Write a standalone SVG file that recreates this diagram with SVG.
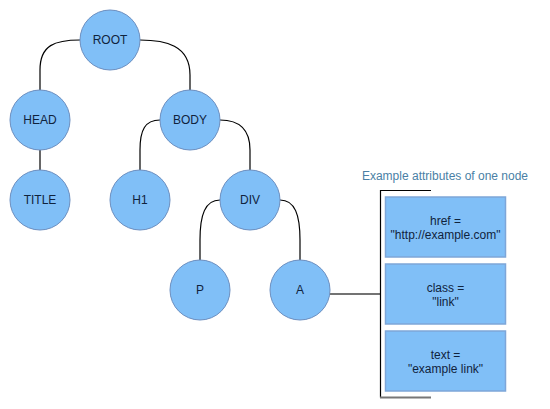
<svg xmlns="http://www.w3.org/2000/svg" width="550" height="409" viewBox="0 0 550 409">
<style>
.n{fill:#80bff7;stroke:#6c8ebf;stroke-width:1}
.t{font-family:"Liberation Sans",Arial,sans-serif;font-size:12px;fill:#10233d;text-anchor:middle}
.c{fill:none;stroke:#000;stroke-width:1.2}
.b{fill:#80bff7;stroke:#7ea6d8;stroke-width:1.5}
</style>
<rect width="550" height="409" fill="#fff"/>
<g id="connectors">
<path class="c" d="M80,40 C55,40 40,45 40,70 L40,90"/>
<path class="c" d="M140,40 C165,40 190,45 190,75 L190,90"/>
<path class="c" d="M40,150 L40,170"/>
<path class="c" d="M160,120 C145,120 140,130 140,150 L140,170"/>
<path class="c" d="M220,120 C240,120 250,130 250,150 L250,170"/>
<path class="c" d="M220,200 C205,200 200,215 200,240 L200,260"/>
<path class="c" d="M280,200 C295,200 300,215 300,240 L300,260"/>
<path d="M330,294 L380,294" stroke="#444" stroke-width="1.5" fill="none"/>
<path d="M431,190.5 L380.5,190.5 L380.5,397.5" stroke="#000" stroke-width="1.2" fill="none"/>
<path d="M380,397.5 L431,397.5" stroke="#777" stroke-width="2" fill="none"/>
</g>
<g id="root"><circle class="n" cx="110" cy="40" r="30"/><text class="t" x="110" y="44">ROOT</text></g>
<g id="head"><circle class="n" cx="40" cy="120" r="30"/><text class="t" x="40" y="124">HEAD</text></g>
<g id="body"><circle class="n" cx="190" cy="120" r="30"/><text class="t" x="190" y="124">BODY</text></g>
<g id="title"><circle class="n" cx="40" cy="200" r="30"/><text class="t" x="40" y="204">TITLE</text></g>
<g id="h1"><circle class="n" cx="140" cy="200" r="30"/><text class="t" x="140" y="204">H1</text></g>
<g id="div"><circle class="n" cx="250" cy="200" r="30"/><text class="t" x="250" y="204">DIV</text></g>
<g id="p"><circle class="n" cx="200" cy="290" r="30"/><text class="t" x="200" y="294">P</text></g>
<g id="a"><circle class="n" cx="300" cy="290" r="30"/><text class="t" x="300" y="294">A</text></g>
<g id="caption"><text x="445" y="180" font-family="Liberation Sans,Arial,sans-serif" font-size="12" fill="#4a7fa5" text-anchor="middle">Example attributes of one node</text></g>
<g id="attr-href"><rect class="b" x="385.5" y="197" width="120" height="60"/><text class="t" x="445.5" y="225">href =</text><text class="t" x="445.5" y="239">"http://example.com"</text></g>
<g id="attr-class"><rect class="b" x="385.5" y="264" width="120" height="60"/><text class="t" x="445.5" y="292">class =</text><text class="t" x="445.5" y="306">"link"</text></g>
<g id="attr-text"><rect class="b" x="385.5" y="331" width="120" height="60"/><text class="t" x="445.5" y="359">text =</text><text class="t" x="445.5" y="373">"example link"</text></g>
</svg>
